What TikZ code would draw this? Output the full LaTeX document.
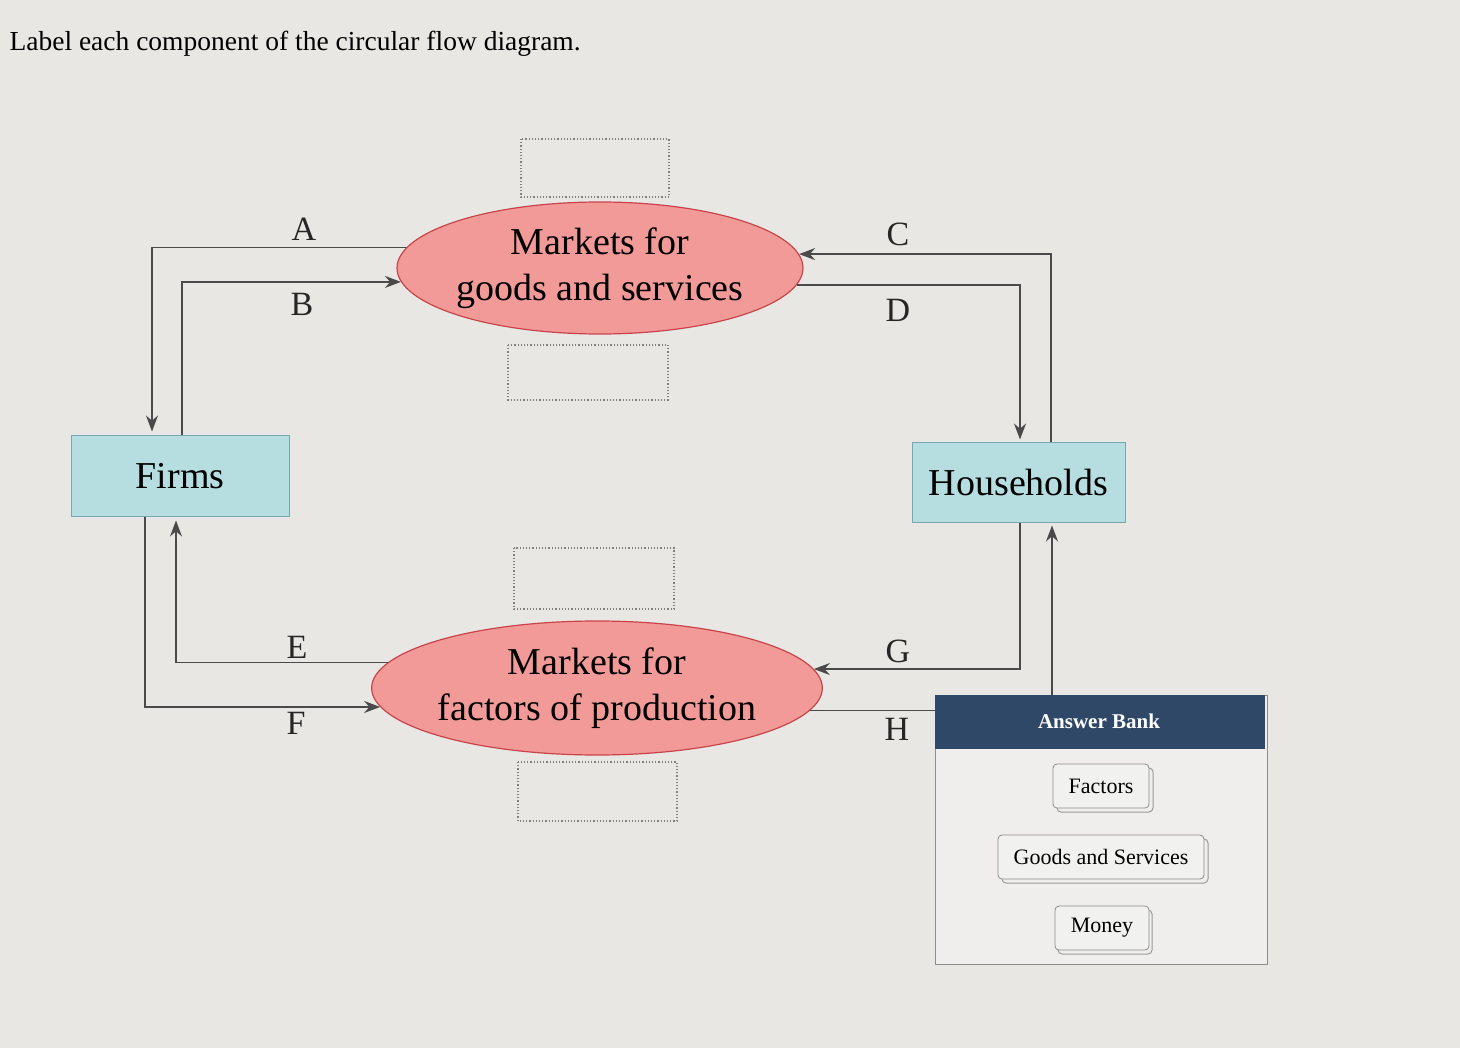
\documentclass[tikz,border=0pt]{standalone}
\usepackage{fontspec}
\setmainfont{Liberation Serif}
\usetikzlibrary{shapes.geometric,arrows.meta}
\definecolor{bg}{HTML}{E8E7E4}
\definecolor{ellf}{HTML}{F29A98}
\definecolor{elld}{HTML}{C8444A}
\definecolor{boxf}{HTML}{B6DEE0}
\definecolor{boxd}{HTML}{78A8B0}
\definecolor{hdr}{HTML}{2F4868}
\definecolor{ln}{HTML}{4A4A4A}
\tikzset{
 mkt/.style={ellipse,draw=elld,line width=1.2pt,fill=ellf,minimum width=356pt,minimum height=132pt,inner sep=0pt,align=center,font=\fontsize{38}{46}\selectfont},
 agent/.style={draw=boxd,line width=1pt,fill=boxf,minimum width=218pt,minimum height=80pt,font=\fontsize{38}{44}\selectfont},
 slot/.style={draw=ln!70,dotted,line width=1.2pt},
 arr/.style={draw=ln,line width=1.6pt,-{Stealth[length=16pt,width=12pt]}},
 lbl/.style={font=\fontsize{34}{38}\selectfont,text=black!85},
 btn/.style={draw=black!45,rounded corners=4pt,fill=bg!60!white,line width=0.8pt,font=\fontsize{22}{26}\selectfont,inner xsep=10pt,minimum height=44pt}
}
\begin{document}
\begin{tikzpicture}[x=1pt,y=-1pt]
\fill[bg] (0,0) rectangle (1460,1048);
\useasboundingbox (0,0) rectangle (1460,1048);
\node[anchor=west,font=\fontsize{27.5}{32}\selectfont] (title) at (6,44) {Label each component of the circular flow diagram.};
\node[mkt] (mg) at (600,268) {Markets for\\goods and services};
\node[mkt,minimum width=360pt,minimum height=134pt] (mf) at (597,688) {Markets for\\factors of production};
\node[agent] (firms) at (180,476) {Firms};
\node[agent,minimum width=213pt,minimum height=79pt] (hh) at (1018.5,482.5) {Households};
\draw[slot] (521,139) rectangle (669,197);
\draw[slot] (508,345) rectangle (668,400);
\draw[slot] (514,548) rectangle (674,609);
\draw[slot] (518,762) rectangle (677,821);
\draw[arr] (mg.174.4) -| ([xshift=-28pt,yshift=4pt]firms.north);
\draw[arr] ([xshift=2pt]firms.north) |- (mg.184.3);
\draw[arr] ([xshift=32.5pt]hh.north) |- (mg.4.3);
\draw[arr] (mg.355.4) -| ([xshift=1.5pt,yshift=3pt]hh.north);
\draw[arr] (mf.173.4) -| ([xshift=-4pt,yshift=-4pt]firms.south);
\draw[arr] ([xshift=-35pt]firms.south) |- (mf.185.2);
\draw[arr] ([xshift=1.5pt]hh.south) |- (mf.5.2);
\draw[arr] (mf.354.1) -| ([xshift=33.5pt,yshift=-3pt]hh.south);
\node[lbl] (la) at (304,229) {A};
\node[lbl] (lb) at (302,304) {B};
\node[lbl] (lc) at (898,234) {C};
\node[lbl] (ld) at (898,310) {D};
\node[lbl] (le) at (297,647) {E};
\node[lbl] (lf) at (296,723) {F};
\node[lbl] (lg) at (898,651) {G};
\node[lbl] (lh) at (897,729) {H};
\draw[fill=bg!70!white,draw=black!45,line width=0.8pt] (935,695) rectangle (1267,964);
\fill[hdr] (935,695) rectangle (1265,749);
\node[text=white,font=\bfseries\fontsize{21}{24}\selectfont] (ab) at (1099,721) {Answer Bank};
\foreach \p/\w/\t [count=\i] in {786/96/Factors,857/206/Goods and Services,928/94/Money}{
 \draw[black!40,line width=1pt,rounded corners=4pt] (1101-\w/2+4,\p-22+4) rectangle (1101+\w/2+4,\p+22+4);
}
\node[btn,minimum width=96pt] (b1) at (1101,786) {Factors};
\node[btn,minimum width=206pt] (b2) at (1101,857) {Goods and Services};
\node[btn,minimum width=94pt] (b3) at (1102,928) {Money};
\end{tikzpicture}
\end{document}
